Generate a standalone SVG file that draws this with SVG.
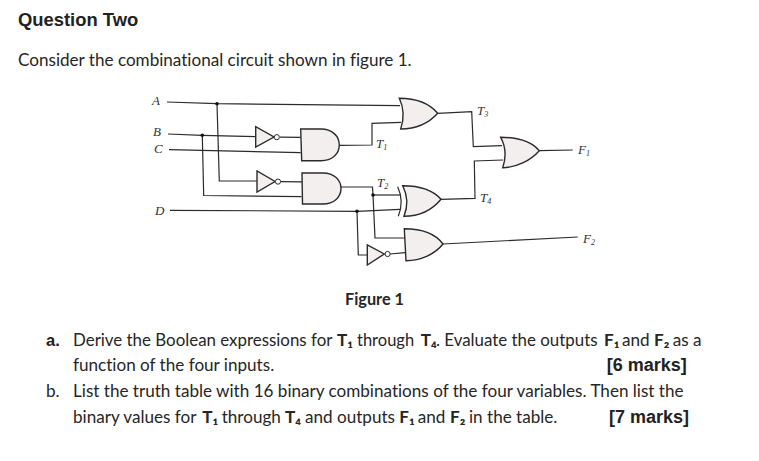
<svg xmlns="http://www.w3.org/2000/svg" width="759" height="461" viewBox="0 0 759 461">
<style>
.w{fill:none;stroke:#2b2b2b;stroke-width:1.2}
.g{fill:#f4efef;stroke:#2b2b2b;stroke-width:1.4}
.b{fill:#fff;stroke:#2b2b2b;stroke-width:1}
.d{fill:#111}
.l{font-family:"Liberation Serif",serif;font-style:italic;font-size:13px;fill:#333}
.s{font-size:8px}
.t{font-family:Lato,"Noto Sans",sans-serif;font-size:17.1px;fill:#262626;font-variant-ligatures:none}
.tb{font-weight:bold}
.a{font-family:"Liberation Sans",Arial,sans-serif;font-weight:bold;fill:#222}
</style>
<rect width="759" height="461" fill="#fff"/>
<g id="connectors">
<path class="w" d="M167 102L217 103.7L400 105.7"/>
<path class="w" d="M217 103.7L219.3 181L257 181"/>
<path class="w" d="M168 134L202.3 135.3L256 136.7"/>
<path class="w" d="M202.3 135.3L203.7 195.5L301.5 196.7"/>
<path class="w" d="M169 149.7L300.7 152.7"/>
<path class="w" d="M170 210.3L357 211.3L400 209.3"/>
<path class="w" d="M280 137.2L300.7 137.3"/>
<path class="w" d="M280.5 181.6L302 181.8"/>
<path class="w" d="M339.3 145.3L372 145L372 123.3L401 122.3"/>
<path class="w" d="M341 187L372.5 187L373 195L375 238L405 238"/>
<path class="w" d="M373 195L401 195"/>
<path class="w" d="M357 211.3L358.3 255L367.3 255"/>
<path class="w" d="M390 254L405 252.7"/>
<path class="w" d="M437.7 113.3L471.7 111.7L473.3 146.7L502 145.7"/>
<path class="w" d="M441 199.3L475 198.3L474.3 161L503 160"/>
<path class="w" d="M539.3 150.7L572.7 150"/>
<path class="w" d="M443 244L577.7 237"/>
<circle class="d" cx="217" cy="103.7" r="1.8"/>
<circle class="d" cx="202.3" cy="135.3" r="1.8"/>
<circle class="d" cx="373" cy="195" r="1.8"/>
<circle class="d" cx="357" cy="211.3" r="1.8"/>
</g>
<g id="not1"><path class="g" d="M255.7 126.7L255.7 147L274 137Z"/><circle class="b" cx="276.8" cy="137.2" r="2.6"/></g>
<g id="not2"><path class="g" d="M257 171L257 192L275 181.5Z"/><circle class="b" cx="278" cy="181.6" r="2.6"/></g>
<g id="not3"><path class="g" d="M367.3 245L367.3 265L384.3 254Z"/><circle class="b" cx="387.6" cy="254" r="2.6"/></g>
<g id="and1"><path class="g" d="M300.7 129L321 129C332 129 339.3 136 339.3 145C339.3 154 332 160.7 321 160.7L301.7 160.7Z"/></g>
<g id="and2"><path class="g" d="M302 173L323 173C334 173 341 180 341 188.5C341 197 334 204 323 204L302.5 204Z"/></g>
<g id="or1"><path class="g" d="M399.3 98.3C416 98.3 429 103 437.7 113.3C429 123 416 129 400.7 129C404 119 404 108 399.3 98.3Z"/></g>
<g id="xor1"><path class="g" d="M402.7 185.7C420 185.7 433 190 441 199.3C433 209 420 216.3 404 216.3C408 206 408 196 402.7 185.7Z"/><path class="w" d="M397.7 186.7C402 196 402 207 398.3 216.3"/></g>
<g id="and3"><path class="g" d="M404.3 228.7C421 228.7 435 233 443 244C435 254 421 260.7 406 260.7Z"/></g>
<g id="or2"><path class="g" d="M500.7 137.3C517 137.3 531 141 539.3 150.7C531 160 517 167.7 502.7 167.7C506 158 506 147 500.7 137.3Z"/></g>
<g id="labels">
<text class="l" x="152" y="105">A</text>
<text class="l" x="153" y="136">B</text>
<text class="l" x="154" y="153">C</text>
<text class="l" x="155" y="215">D</text>
<text class="l" x="376" y="148">T<tspan class="s" dy="2">1</tspan></text>
<text class="l" x="377" y="187">T<tspan class="s" dy="2">2</tspan></text>
<text class="l" x="477" y="115">T<tspan class="s" dy="2">3</tspan></text>
<text class="l" x="480" y="202">T<tspan class="s" dy="2">4</tspan></text>
<text class="l" x="578" y="154">F<tspan class="s" dy="2">1</tspan></text>
<text class="l" x="583" y="243">F<tspan class="s" dy="2">2</tspan></text>
</g>
<g id="text">
<text class="a" x="18" y="26" font-size="18.4">Question Two</text>
<text class="t" x="18" y="66">Consider the combinational circuit shown in figure 1.</text>
<text class="t tb" x="345" y="305" style="font-size:16.3px">Figure 1</text>
<text class="a" x="46" y="346" font-size="16.5">a.</text>
<text class="t" x="73" y="346" style="font-size:16.9px">Derive the Boolean expressions for</text>
<text class="t tb" x="337" y="346">T₁</text>
<text class="t" x="357" y="346" style="font-size:16.5px">through</text>
<text class="t tb" x="420.7" y="346">T₄</text>
<text class="t" x="436" y="346" style="font-size:16.9px">. Evaluate the outputs</text>
<text class="t tb" x="604" y="346">F₁</text>
<text class="t" x="622" y="346">and</text>
<text class="t tb" x="654" y="346">F₂</text>
<text class="t" x="672.7" y="346">as a</text>
<text class="t" x="73" y="371">function of the four inputs.</text>
<text class="a" x="606.7" y="371" font-size="18">[6 marks]</text>
<text class="t" x="46" y="397">b.</text>
<text class="t" x="73" y="397">List the truth table with 16 binary combinations of the four variables. Then list the</text>
<text class="t" x="73" y="423">binary values for</text>
<text class="t tb" x="202.3" y="423">T₁</text>
<text class="t" x="221.7" y="423">through</text>
<text class="t tb" x="285" y="423">T₄</text>
<text class="t" x="305" y="423">and outputs</text>
<text class="t tb" x="399.3" y="423">F₁</text>
<text class="t" x="417.7" y="423">and</text>
<text class="t tb" x="450" y="423">F₂</text>
<text class="t" x="469" y="423">in the table.</text>
<text class="a" x="609" y="423" font-size="18">[7 marks]</text>
</g>
</svg>
